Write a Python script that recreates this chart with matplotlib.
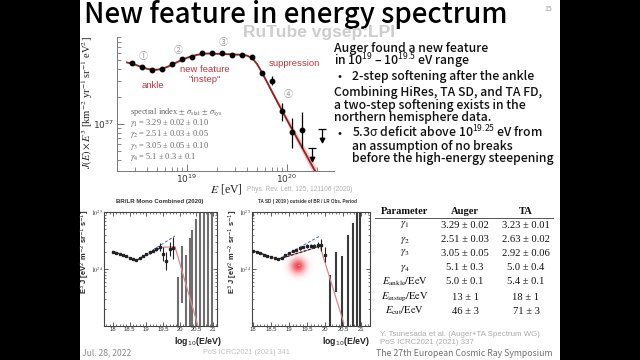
import numpy as np
import matplotlib
matplotlib.use("Agg")
import matplotlib.pyplot as plt
from matplotlib.ticker import LogLocator, NullFormatter, FixedLocator, MultipleLocator, FuncFormatter
from matplotlib.lines import Line2D
from matplotlib.patches import Rectangle

plt.rcParams['mathtext.fontset'] = 'stix'
plt.rcParams['mathtext.rm'] = 'Noto Sans CJK JP'
plt.rcParams['mathtext.it'] = 'Noto Sans CJK JP'
plt.rcParams['mathtext.bf'] = 'Noto Sans CJK JP:bold'
plt.rcParams['mathtext.sf'] = 'Noto Sans CJK JP'

SLIDE = ['Noto Sans CJK JP', 'DejaVu Sans']
SERIF = ['Liberation Serif', 'DejaVu Serif']
SANS = ['Liberation Sans', 'DejaVu Sans']

# ---------------- data: Auger spectrum (top panel) ----------------
auger_logE = [18.45, 18.55, 18.65, 18.75, 18.85, 18.95, 19.05, 19.15, 19.25, 19.35,
              19.45, 19.55, 19.65, 19.75, 19.85, 19.95, 20.05, 20.15]
auger_logJ = [37.667, 37.623, 37.597, 37.601, 37.656, 37.711, 37.740, 37.780, 37.784, 37.784,
              37.762, 37.762, 37.740, 37.557, 37.476, 37.143, 36.909, 36.934]
auger_err_hi = [0.005, 0.005, 0.005, 0.005, 0.005, 0.005, 0.005, 0.005, 0.005, 0.005,
                0.006, 0.008, 0.010, 0.020, 0.051, 0.091, 0.157, 0.201]
auger_err_lo = [0.005, 0.005, 0.005, 0.005, 0.005, 0.005, 0.005, 0.005, 0.005, 0.005,
                0.006, 0.008, 0.010, 0.020, 0.047, 0.107, 0.173, 0.198]
ul_logE = [20.25, 20.35]
ul_logJ = [36.74, 36.94]

fit_logE = [18.40, 18.45, 18.50, 18.55, 18.60, 18.65, 18.70, 18.75, 18.80, 18.85,
            18.90, 18.95, 19.00, 19.05, 19.10, 19.15, 19.20, 19.30, 19.40, 19.50,
            19.55, 19.60, 19.65, 19.70, 19.75, 19.80, 19.85, 19.90, 20.00, 20.10,
            20.20, 20.30]
fit_logJ = [37.676, 37.664, 37.645, 37.625, 37.607, 37.598, 37.597, 37.607, 37.627, 37.652,
            37.680, 37.706, 37.728, 37.746, 37.760, 37.770, 37.775, 37.772, 37.768, 37.763,
            37.760, 37.752, 37.725, 37.660, 37.565, 37.460, 37.355, 37.250, 37.045, 36.845,
            36.645, 36.445]
fit_band = [0.008, 0.008, 0.008, 0.008, 0.008, 0.008, 0.008, 0.008, 0.008, 0.008,
            0.008, 0.008, 0.008, 0.008, 0.008, 0.008, 0.008, 0.008, 0.008, 0.008,
            0.008, 0.008, 0.010, 0.012, 0.015, 0.020, 0.025, 0.030, 0.040, 0.050,
            0.060, 0.070]

index_names = [r'$\gamma_1$', r'$\gamma_2$', r'$\gamma_3$', r'$\gamma_4$']
index_values = ['3.29 ± 0.02 ± 0.10', '2.51 ± 0.03 ± 0.05', '3.05 ± 0.05 ± 0.10', '5.1 ± 0.3 ± 0.1']

# ---------------- data: BR/LR Mono Combined (bottom left) ----------------
br_logE = [18.0, 18.1, 18.2, 18.3, 18.4, 18.5, 18.6, 18.7, 18.8, 18.9,
           19.0, 19.1, 19.2, 19.3, 19.4, 19.5, 19.6, 19.7, 19.8]
br_logJ = [24.30, 24.28, 24.26, 24.24, 24.22, 24.20, 24.18, 24.16, 24.19, 24.22,
           24.26, 24.29, 24.32, 24.35, 24.38, 24.26, 24.14, 24.35, 24.37]
br_err = [0.01, 0.01, 0.01, 0.01, 0.01, 0.01, 0.01, 0.01, 0.01, 0.015,
          0.015, 0.02, 0.02, 0.03, 0.07, 0.12, 0.16, 0.13, 0.20]
br_fit_logE = [18.0, 18.7, 19.45, 19.86, 20.55]
br_fit_logJ = [24.31, 24.15, 24.38, 24.39, 23.00]
br_nb_logE = [18.7, 19.86]
br_nb_logJ = [24.15, 24.58]
br_bar_logE = [19.96, 20.08, 20.19, 20.30, 20.38, 20.49, 20.61, 20.73, 20.86, 20.98]
br_bar_top = [23.86, 24.40, 24.25, 24.55, 24.68, 24.87, 25.2, 25.2, 25.2, 25.2]
br_bar_bot = [22.8, 23.40, 22.8, 22.8, 22.8, 22.8, 22.8, 22.8, 22.8, 22.8]

# ---------------- data: TA SD outside BR/LR period (bottom middle) ----------------
ta_logE = [18.0, 18.1, 18.2, 18.3, 18.4, 18.5, 18.6, 18.7, 18.8, 18.9,
           19.0, 19.1, 19.2, 19.3, 19.4, 19.5, 19.6, 19.7, 19.8, 19.9, 20.0]
ta_logJ = [24.32, 24.30, 24.28, 24.25, 24.23, 24.21, 24.19, 24.17, 24.20, 24.24,
           24.28, 24.31, 24.34, 24.36, 24.38, 24.40, 24.41, 24.40, 24.42, 24.42, 24.25]
ta_err = [0.008, 0.008, 0.008, 0.008, 0.008, 0.008, 0.008, 0.008, 0.008, 0.01,
          0.01, 0.015, 0.015, 0.02, 0.02, 0.03, 0.03, 0.04, 0.05, 0.10, 0.13]
ta_fit_logE = [18.0, 18.7, 19.86, 20.52]
ta_fit_logJ = [24.32, 24.17, 24.40, 23.05]
ta_nb_logE = [18.7, 19.86]
ta_nb_logJ = [24.17, 24.58]
ta_bar_logE = [20.14, 20.30, 20.46, 20.65, 20.79, 20.88, 20.97]
ta_bar_top = [23.89, 24.30, 24.22, 24.60, 24.80, 25.2, 25.2]
ta_bar_bot = [22.8, 23.60, 22.8, 22.8, 22.8, 22.8, 22.8]

# ---------------- data: table ----------------
table_header = ['Parameter', 'Auger', 'TA']
table_params = [r'$\gamma_1$', r'$\gamma_2$', r'$\gamma_3$', r'$\gamma_4$',
                r'$E_{\rm ankle}/{\rm EeV}$', r'$E_{\rm instep}/{\rm EeV}$', r'$E_{\rm cut}/{\rm EeV}$']
table_auger = ['3.29 ± 0.02', '2.51 ± 0.03', '3.05 ± 0.05', '5.1 ± 0.3', '5.0 ± 0.1', '13 ± 1', '46 ± 3']
table_ta = ['3.23 ± 0.01', '2.63 ± 0.02', '2.92 ± 0.06', '5.0 ± 0.4', '5.4 ± 0.1', '18 ± 1', '71 ± 3']

W, H = 640, 360


def fx(x):
    return x / W


def fy(y):
    return 1 - y / H


def p10(v):
    return 10 ** np.asarray(v, dtype=float)


fig = plt.figure(figsize=(6.4, 3.6), dpi=100)
fig.patch.set_facecolor('black')
fig.add_artist(Rectangle((fx(80), 0), fx(480), 1, transform=fig.transFigure,
                         facecolor='white', edgecolor='none', zorder=-10))

# ---------------- top panel ----------------
ax1 = fig.add_axes([fx(117), fy(171), fx(334 - 117), (171 - 37) / H])
ax1.set_facecolor('none')
ax1.set_xscale('log')
ax1.set_yscale('log')
ax1.set_xlim(10 ** 18.3, 10 ** 20.47)
ax1.set_ylim(10 ** 36.484, 10 ** 37.956)
for s in ['top', 'right']:
    ax1.spines[s].set_visible(False)
for s in ['left', 'bottom']:
    ax1.spines[s].set_color('#777777')
    ax1.spines[s].set_linewidth(0.7)
ax1.xaxis.set_major_locator(FixedLocator([1e19, 1e20]))
ax1.xaxis.set_minor_locator(LogLocator(base=10, subs=np.arange(2, 10), numticks=20))
ax1.xaxis.set_minor_formatter(NullFormatter())
ax1.yaxis.set_major_locator(FixedLocator([1e37]))
ax1.yaxis.set_minor_locator(LogLocator(base=10, subs=np.arange(2, 10), numticks=20))
ax1.yaxis.set_minor_formatter(NullFormatter())
ax1.tick_params(which='both', direction='in', color='#777777', labelsize=6.5,
                labelcolor='#333333', pad=2)
ax1.tick_params(axis='x', pad=1.2)
ax1.tick_params(which='major', length=5, width=0.7)
ax1.tick_params(which='minor', length=3, width=0.6)

fl = np.array(fit_logJ)
fb = np.array(fit_band)
ax1.fill_between(p10(fit_logE), p10(fl - fb), p10(fl + fb), color='#f6c9c9', lw=0, zorder=1)
ax1.plot(p10(fit_logE), p10(fit_logJ), color='#8e2323', lw=1.3, zorder=2)
aj = np.array(auger_logJ)
yerr = [p10(aj) - p10(aj - np.array(auger_err_lo)), p10(aj + np.array(auger_err_hi)) - p10(aj)]
ax1.errorbar(p10(auger_logE), p10(auger_logJ), yerr=yerr, fmt='o', color='black',
             ms=3.2, elinewidth=0.9, capsize=0, zorder=3)
ulj = np.array(ul_logJ)
ax1.vlines(p10(ul_logE), p10(ulj - 0.12), p10(ulj), color='black', lw=0.9, zorder=3)
ax1.scatter(p10(ul_logE), p10(ulj), marker='_', s=30, color='black', lw=0.9, zorder=3)
ax1.scatter(p10(ul_logE), p10(ulj - 0.12), marker='v', s=10, color='black', zorder=3)

fig.text(fx(87), fy(103), r'$J(E) \times E^3$ [km$^{-2}$ yr$^{-1}$ sr$^{-1}$ eV$^2$]',
         rotation=90, ha='center', va='center', fontsize=7.6, family=SERIF, color='#222222')
fig.text(fx(226), fy(189), r'$E$ [eV]', ha='center', va='center', fontsize=8.5,
         family=SERIF, color='#222222')
fig.text(fx(247), fy(189.5), 'Phys. Rev. Lett. 125, 121106 (2020)', ha='left', va='center',
         fontsize=4.8, family=SANS, color='#b0b0b0')

circ = ['①', '②', '③', '④']
circ_pos = [(143, 57), (178, 50), (223, 42), (288, 94)]
for c, (x, y) in zip(circ, circ_pos):
    fig.text(fx(x), fy(y), c, ha='center', va='center', fontsize=6.5, color='#999999',
             family=['Noto Sans CJK JP', 'DejaVu Sans'])
red = '#c8343a'
fig.text(fx(153), fy(86), 'ankle', ha='center', va='center', fontsize=6.8, color=red, family=SANS)
fig.text(fx(205), fy(69), 'new feature', ha='center', va='center', fontsize=6.8, color=red, family=SANS)
fig.text(fx(205), fy(80), '"instep"', ha='center', va='center', fontsize=6.8, color=red, family=SANS)
fig.text(fx(294), fy(63), 'suppression', ha='center', va='center', fontsize=6.8, color=red, family=SANS)

fig.text(fx(130), fy(112), r'spectral index $\pm$ $\sigma_{\rm stat}$ $\pm$ $\sigma_{\rm sys}$',
         ha='left', va='center', fontsize=6.0, family=SERIF, color='#666666')
for i, (n, v) in enumerate(zip(index_names, index_values)):
    fig.text(fx(130), fy(123 + 11.3 * i), n + ' = ' + v, ha='left', va='center',
             fontsize=6.0, family=SERIF, color='#666666')

# ---------------- bottom panels ----------------
def spectrum_panel(rect, xlim, logE, logJ, err, fit_E, fit_J, nb_E, nb_J,
                   bar_E, bar_top, bar_bot, bar_color, dash_upto):
    ax = fig.add_axes(rect)
    ax.set_facecolor('none')
    ax.set_yscale('log')
    ax.set_xlim(*xlim)
    ax.set_ylim(1e23, 1e25)
    for s in ax.spines.values():
        s.set_color('#444444')
        s.set_linewidth(0.8)
    ax.vlines(bar_E, p10(bar_bot), p10(bar_top), color=bar_color, lw=1.5, zorder=2)
    ax.plot(fit_E, p10(fit_J), color='#d9898e', lw=0.9, zorder=3)
    ax.plot(nb_E, p10(nb_J), color='#4d5fd0', lw=0.7, ls=(0, (3, 2)), zorder=3)
    fe = np.array(fit_E)
    fj = np.array(fit_J)
    m = fe <= dash_upto
    ax.plot(fe[m], p10(fj[m]), color='#222222', lw=0.8, ls=(0, (2.5, 1.5)), zorder=4)
    lj = np.array(logJ)
    e = np.array(err)
    ax.errorbar(logE, p10(lj), yerr=[p10(lj) - p10(lj - e), p10(lj + e) - p10(lj)],
                fmt='s', color='#222222', ms=1.4, elinewidth=0.8, capsize=0, zorder=5)
    ax.xaxis.set_major_locator(MultipleLocator(0.5))
    ax.xaxis.set_minor_locator(MultipleLocator(0.1))
    ax.xaxis.set_major_formatter(FuncFormatter(lambda v, p: ('%g' % v)))
    ax.yaxis.set_major_locator(FixedLocator([1e23, 1e24, 1e25]))
    ax.yaxis.set_minor_locator(LogLocator(base=10, subs=np.arange(2, 10), numticks=20))
    ax.yaxis.set_minor_formatter(NullFormatter())
    ax.yaxis.set_major_formatter(FuncFormatter(
        lambda v, p: '' if v < 5e23 else r'$10^{%d}$' % round(np.log10(v))))
    ax.tick_params(which='both', direction='in', top=True, right=True, color='#444444',
                   labelsize=4.2, labelcolor='#333333', pad=1.0)
    ax.tick_params(which='major', length=3, width=0.6)
    ax.tick_params(which='minor', length=1.6, width=0.5)
    for t in ax.get_xticklabels() + ax.get_yticklabels():
        t.set_family(SANS)
    return ax


ax2 = spectrum_panel([fx(104), fy(326), fx(217 - 104), (326 - 212) / H], (17.73, 21.12),
                     br_logE, br_logJ, br_err, br_fit_logE, br_fit_logJ, br_nb_logE, br_nb_logJ,
                     br_bar_logE, br_bar_top, br_bar_bot, '#6e6e6e', 19.45)
ax3 = spectrum_panel([fx(252), fy(326), fx(370 - 252), (326 - 212) / H], (17.97, 21.25),
                     ta_logE, ta_logJ, ta_err, ta_fit_logE, ta_fit_logJ, ta_nb_logE, ta_nb_logJ,
                     ta_bar_logE, ta_bar_top, ta_bar_bot, '#3a3a3a', 19.86)

ylab = r'E$^3$ J [eV$^2$ m$^{-2}$ sr$^{-1}$ s$^{-1}$]'
for x in (85, 233):
    fig.text(fx(x), fy(252), ylab, rotation=90, ha='center', va='center', fontsize=5.4,
             weight='bold', family=SANS, color='#222222', math_fontfamily='dejavusans')
for x in (222, 370):
    fig.text(fx(x), fy(342), r'log$_{10}$(E/eV)', ha='right', va='center', fontsize=6.3,
             weight='bold', family=SANS, color='#222222', math_fontfamily='dejavusans')
fig.text(fx(160), fy(201), 'BR/LR Mono Combined (2020)', ha='center', va='center',
         fontsize=4.4, weight='bold', family=SANS, color='#333333')
fig.text(fx(308), fy(201), 'TA SD ( 2019 ) outside of BR / LR Obs. Period', ha='center',
         va='center', fontsize=3.3, weight='bold', family=SANS, color='#333333')

# laser-pointer glow
gy, gx = np.mgrid[-1:1:64j, -1:1:64j]
glow = np.zeros((64, 64, 4))
glow[..., 0] = 0.93
glow[..., 1] = 0.15
glow[..., 2] = 0.2
glow[..., 3] = 0.85 * np.exp(-(gx ** 2 + gy ** 2) / 0.22)
gax = fig.add_axes([fx(298 - 16), fy(266 + 16), fx(32), 32 / H], zorder=20)
gax.imshow(glow, extent=(0, 1, 0, 1), interpolation='bilinear')
gax.axis('off')
fig.text(fx(298), fy(266), '·', color='white', ha='center', va='center', fontsize=5, zorder=21)

# ---------------- slide text ----------------
fig.text(fx(84), fy(23), 'New feature in energy spectrum', ha='left', va='baseline',
         fontsize=20, weight='medium', family=SLIDE, color='black')
fig.text(fx(548), fy(9), '15', ha='center', va='center', fontsize=5, family=SLIDE, color='#9a9a9a')
fig.text(fx(319), fy(33), 'RuTube vgsep:LPI', ha='center', va='center', fontsize=12.5,
         weight='bold', family=SANS, color='#cdcdcd', zorder=30)

fs = 8.8
mf = 'custom'
lines_plain = [(334, 52, 'Auger found a new feature'),
               (334, 65, r'in 10$^{19}$ – 10$^{19.5}$ eV range'),
               (352, 80, '2-step softening after the ankle'),
               (334, 96, 'Combining HiRes, TA SD, and TA FD,'),
               (334, 109, 'a two-step softening exists in the'),
               (334, 121, 'northern hemisphere data.'),
               (352, 137, r'5.3$\sigma$ deficit above 10$^{19.25}$ eV from'),
               (352, 150, 'an assumption of no breaks'),
               (352, 162, 'before the high-energy steepening')]
for x, y, t in lines_plain:
    fig.text(fx(x), fy(y), t, ha='left', va='baseline', fontsize=fs, weight='medium',
             family=SLIDE, color='#111111', math_fontfamily=mf)
for y in (80, 137):
    fig.text(fx(338), fy(y), '•', ha='left', va='baseline', fontsize=fs, family=SLIDE, color='#111111')

# ---------------- table ----------------
col_x = [405, 465, 526]
for x, h in zip(col_x, table_header):
    fig.text(fx(x), fy(211), h, ha='center', va='center', fontsize=7.6, weight='bold',
             family=SERIF, color='#111111')
fig.add_artist(Line2D([fx(375), fx(553)], [fy(218), fy(218)], transform=fig.transFigure,
                      color='#555555', lw=0.7))
row_y = [225, 240, 253, 268, 282, 297, 311]
for y, p, a, t in zip(row_y, table_params, table_auger, table_ta):
    fig.text(fx(col_x[0]), fy(y), p, ha='center', va='center', fontsize=7.6, family=SERIF,
             color='#111111', math_fontfamily='stix')
    fig.text(fx(col_x[1]), fy(y), a, ha='center', va='center', fontsize=7.6, family=SERIF,
             color='#111111')
    fig.text(fx(col_x[2]), fy(y), t, ha='center', va='center', fontsize=7.6, family=SERIF,
             color='#111111')

fig.text(fx(380), fy(335), 'Y. Tsunesada et al. (Auger+TA Spectrum WG)', ha='left', va='center',
         fontsize=5.7, family=SANS, color='#ababab')
fig.text(fx(380), fy(343), 'PoS ICRC2021 (2021) 337', ha='left', va='center',
         fontsize=5.7, family=SANS, color='#ababab')
fig.text(fx(553), fy(354), 'The 27th European Cosmic Ray Symposium', ha='right', va='center',
         fontsize=6.3, family=SLIDE, color='#707070')
fig.text(fx(82), fy(353), 'Jul. 28, 2022', ha='left', va='center', fontsize=6.2,
         family=SLIDE, color='#8a8a8a')
fig.text(fx(203), fy(353), 'PoS ICRC2021 (2021) 341', ha='left', va='center', fontsize=5.2,
         family=SANS, color='#c0c0c0')

fig.savefig('out.png', dpi=100, facecolor=fig.get_facecolor())
